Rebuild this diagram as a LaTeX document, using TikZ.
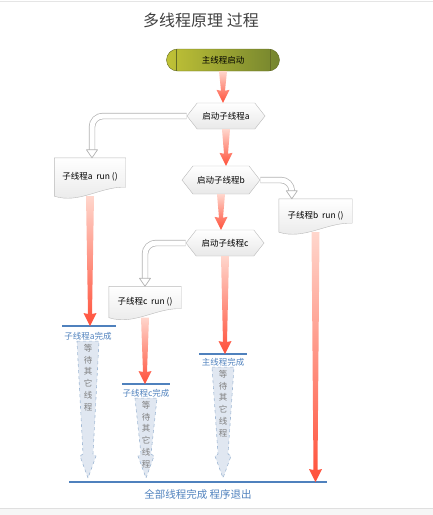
\documentclass[tikz,border=0pt]{standalone}
\usepackage{fontspec}
\setmainfont{Noto Sans CJK SC}
\usetikzlibrary{calc,positioning,shapes.symbols,backgrounds}

\definecolor{barblue}{RGB}{79,129,189}
\definecolor{olivel}{RGB}{192,194,54}
\definecolor{oliver}{RGB}{116,132,46}
\definecolor{olived}{RGB}{100,108,36}
\definecolor{arrowred}{RGB}{255,80,58}
\definecolor{arrowpink}{RGB}{255,214,204}
\definecolor{waitfill}{RGB}{224,231,241}
\definecolor{waitedge}{RGB}{160,184,212}

\newcommand\redarrow[2]{% shaded arrow straight down from #1 to #2
  \path[red shaft] let \p1=(#1), \p2=(#2) in
    ({\x1-4pt},\y1) -- ({\x1+4pt},\y1) -- ({\x1+2pt},{\y2+12pt}) -- ({\x1+6.5pt},{\y2+13pt})
    -- (\x1,\y2) -- ({\x1-6.5pt},{\y2+13pt}) -- ({\x1-2pt},{\y2+12pt}) -- cycle;}
\newcommand\bentarrow[2]{% hollow arrow from a hexagon side round to a document
  \draw[hollow shaft] (#1) -| ([yshift=7pt]#2);
  \filldraw[hollow head] ([shift={(-5.5pt,8pt)}]#2) -- ([shift={(5.5pt,8pt)}]#2) -- (#2) -- cycle;}
\newcommand\waitarrow[2]{% dashed arrow under a finished bar down to the last line
  \path[wait shaft] let \p1=(#1.south), \p2=(#2) in
    ({\x1-11pt},\y1) -- ({\x1+11pt},\y1) -- ({\x1+5pt},{\y2+28pt}) -- ({\x1+8pt},{\y2+26pt})
    -- (\x1,{\y2+4pt}) -- ({\x1-8pt},{\y2+26pt}) -- ({\x1-5pt},{\y2+28pt}) -- cycle;}
\newcommand\docback[1]{% document outline with a wavy bottom, behind node #1
  \begin{pgfonlayer}{background}
  \path[doc back] let \p1=(#1.south west), \p2=(#1.north east) in
    (\x1,\y2) -- (\x2,\y2) -- (\x2,{\y1+9pt})
    .. controls ({\x1+0.65*(\x2-\x1)},{\y1+10pt}) and ({\x1+0.35*(\x2-\x1)},{\y1-8pt}) .. (\x1,\y1) -- cycle;
  \end{pgfonlayer}}

\begin{document}
\begin{tikzpicture}[x=1pt,y=-1pt,
  title/.style={font=\fontsize{16}{18}\selectfont,text=black!75},
  pill/.style={rectangle,rounded corners=11pt,minimum width=113pt,minimum height=22pt,
    left color=olivel,right color=oliver,draw=olived,font=\fontsize{8.5}{10}\selectfont},
  hex/.style={signal,signal to=west and east,signal pointer angle=104,minimum width=78pt,
    minimum height=26pt,top color=white,bottom color=gray!18,draw=gray!55,
    font=\fontsize{8.5}{10}\selectfont},
  doc/.style={rectangle,minimum width=72pt,minimum height=#1,font=\fontsize{8.5}{10}\selectfont},
  doc/.default=32pt,
  doc back/.style={top color=white,bottom color=gray!18,draw=gray!55},
  red shaft/.style={top color=arrowpink,bottom color=arrowred},
  hollow shaft/.style={draw=gray!60,double=white,double distance=5pt,line width=0.7pt,rounded corners=11pt},
  hollow head/.style={draw=gray!60,fill=white,line width=0.7pt,line join=round},
  wait shaft/.style={fill=waitfill,draw=waitedge,dashed,line width=0.6pt},
  wait text/.style={align=center,inner sep=1pt,text=black!50,font=\fontsize{8.5}{11.7}\selectfont},
  bar/.style={draw=barblue,line width=2.2pt},
  done text/.style={inner sep=1pt,text=barblue,font=\fontsize{8.5}{10}\selectfont}
  ]
\useasboundingbox (0,0) rectangle (433,515);
\draw[gray!20] (0,1) -- (433,1);
\fill[gray!7] (0,508) rectangle (433,515);
\draw[gray!25] (0,508) -- (433,508);

\node[title] (title) at (201,20) {多线程原理 过程};
\node[pill] (main) at (223,60) {主线程启动};
\draw[olived] ([xshift=10pt]main.north west) -- ([xshift=10pt]main.south west);
\draw[olived] ([xshift=-10pt]main.north east) -- ([xshift=-10pt]main.south east);

\node[hex] (hexa) at (226,116) {启动子线程a};
\node[hex,minimum height=28pt] (hexb) at (221,180) {启动子线程b};
\node[hex] (hexc) at (225,243) {启动子线程c};

\node[doc=38pt,minimum width=71pt] (doca) at (90,177) {子线程a\ \ run ()};
\node[doc=33pt,minimum width=73pt] (docb) at (315.5,215.5) {子线程b\ \ run ()};
\node[doc=31pt] (docc) at (145,302) {子线程c\ \ run ()};
\docback{doca}
\docback{docb}
\docback{docc}

% finished bars
\coordinate (bara) at (89,326);
\coordinate (barc) at (146,384);
\coordinate (barm) at (223,354);
\coordinate (final) at (198,482);
\draw[bar] ([xshift=-27pt]bara) -- ([xshift=27pt]bara);
\draw[bar] ([xshift=-24pt]barc) -- ([xshift=24pt]barc);
\draw[bar] ([xshift=-24pt]barm) -- ([xshift=24pt]barm);
\draw[bar] (69,482) -- (327,482);
\node[done text] (donea) at (88,336) {子线程a完成};
\node[done text] (donec) at (146,393) {子线程c完成};
\node[done text] (donem) at (223,362) {主线程完成};
\node[done text,font=\fontsize{10.5}{12}\selectfont] (alldone) at (198,494) {全部线程完成 程序退出};

% main thread
\redarrow{main.south}{hexa.north}
\redarrow{hexa.south}{hexb.north}
\redarrow{hexb.south}{hexc.north}
\redarrow{hexc.south}{barm}

% child threads
\coordinate (tipa) at ([xshift=2pt]doca.north);
\coordinate (tipb) at ([xshift=13pt]docb.north west);
\coordinate (tipc) at (docc.north);
\bentarrow{hexa.west}{tipa}
\bentarrow{hexb.east}{tipb}
\bentarrow{hexc.west}{tipc}
\redarrow{doca.south}{bara}
\redarrow{docb.south}{final}
\redarrow{docc.south}{barc}

% waiting
\waitarrow{donea}{final}
\waitarrow{donec}{final}
\waitarrow{donem}{final}
\node[wait text,below=2pt of donea] (waita) {等\\待\\其\\它\\线\\程};
\node[wait text,below=2pt of donec] (waitc) {等\\待\\其\\它\\线\\程};
\node[wait text,below=2pt of donem] (waitm) {等\\待\\其\\它\\线\\程};
\end{tikzpicture}
\end{document}
